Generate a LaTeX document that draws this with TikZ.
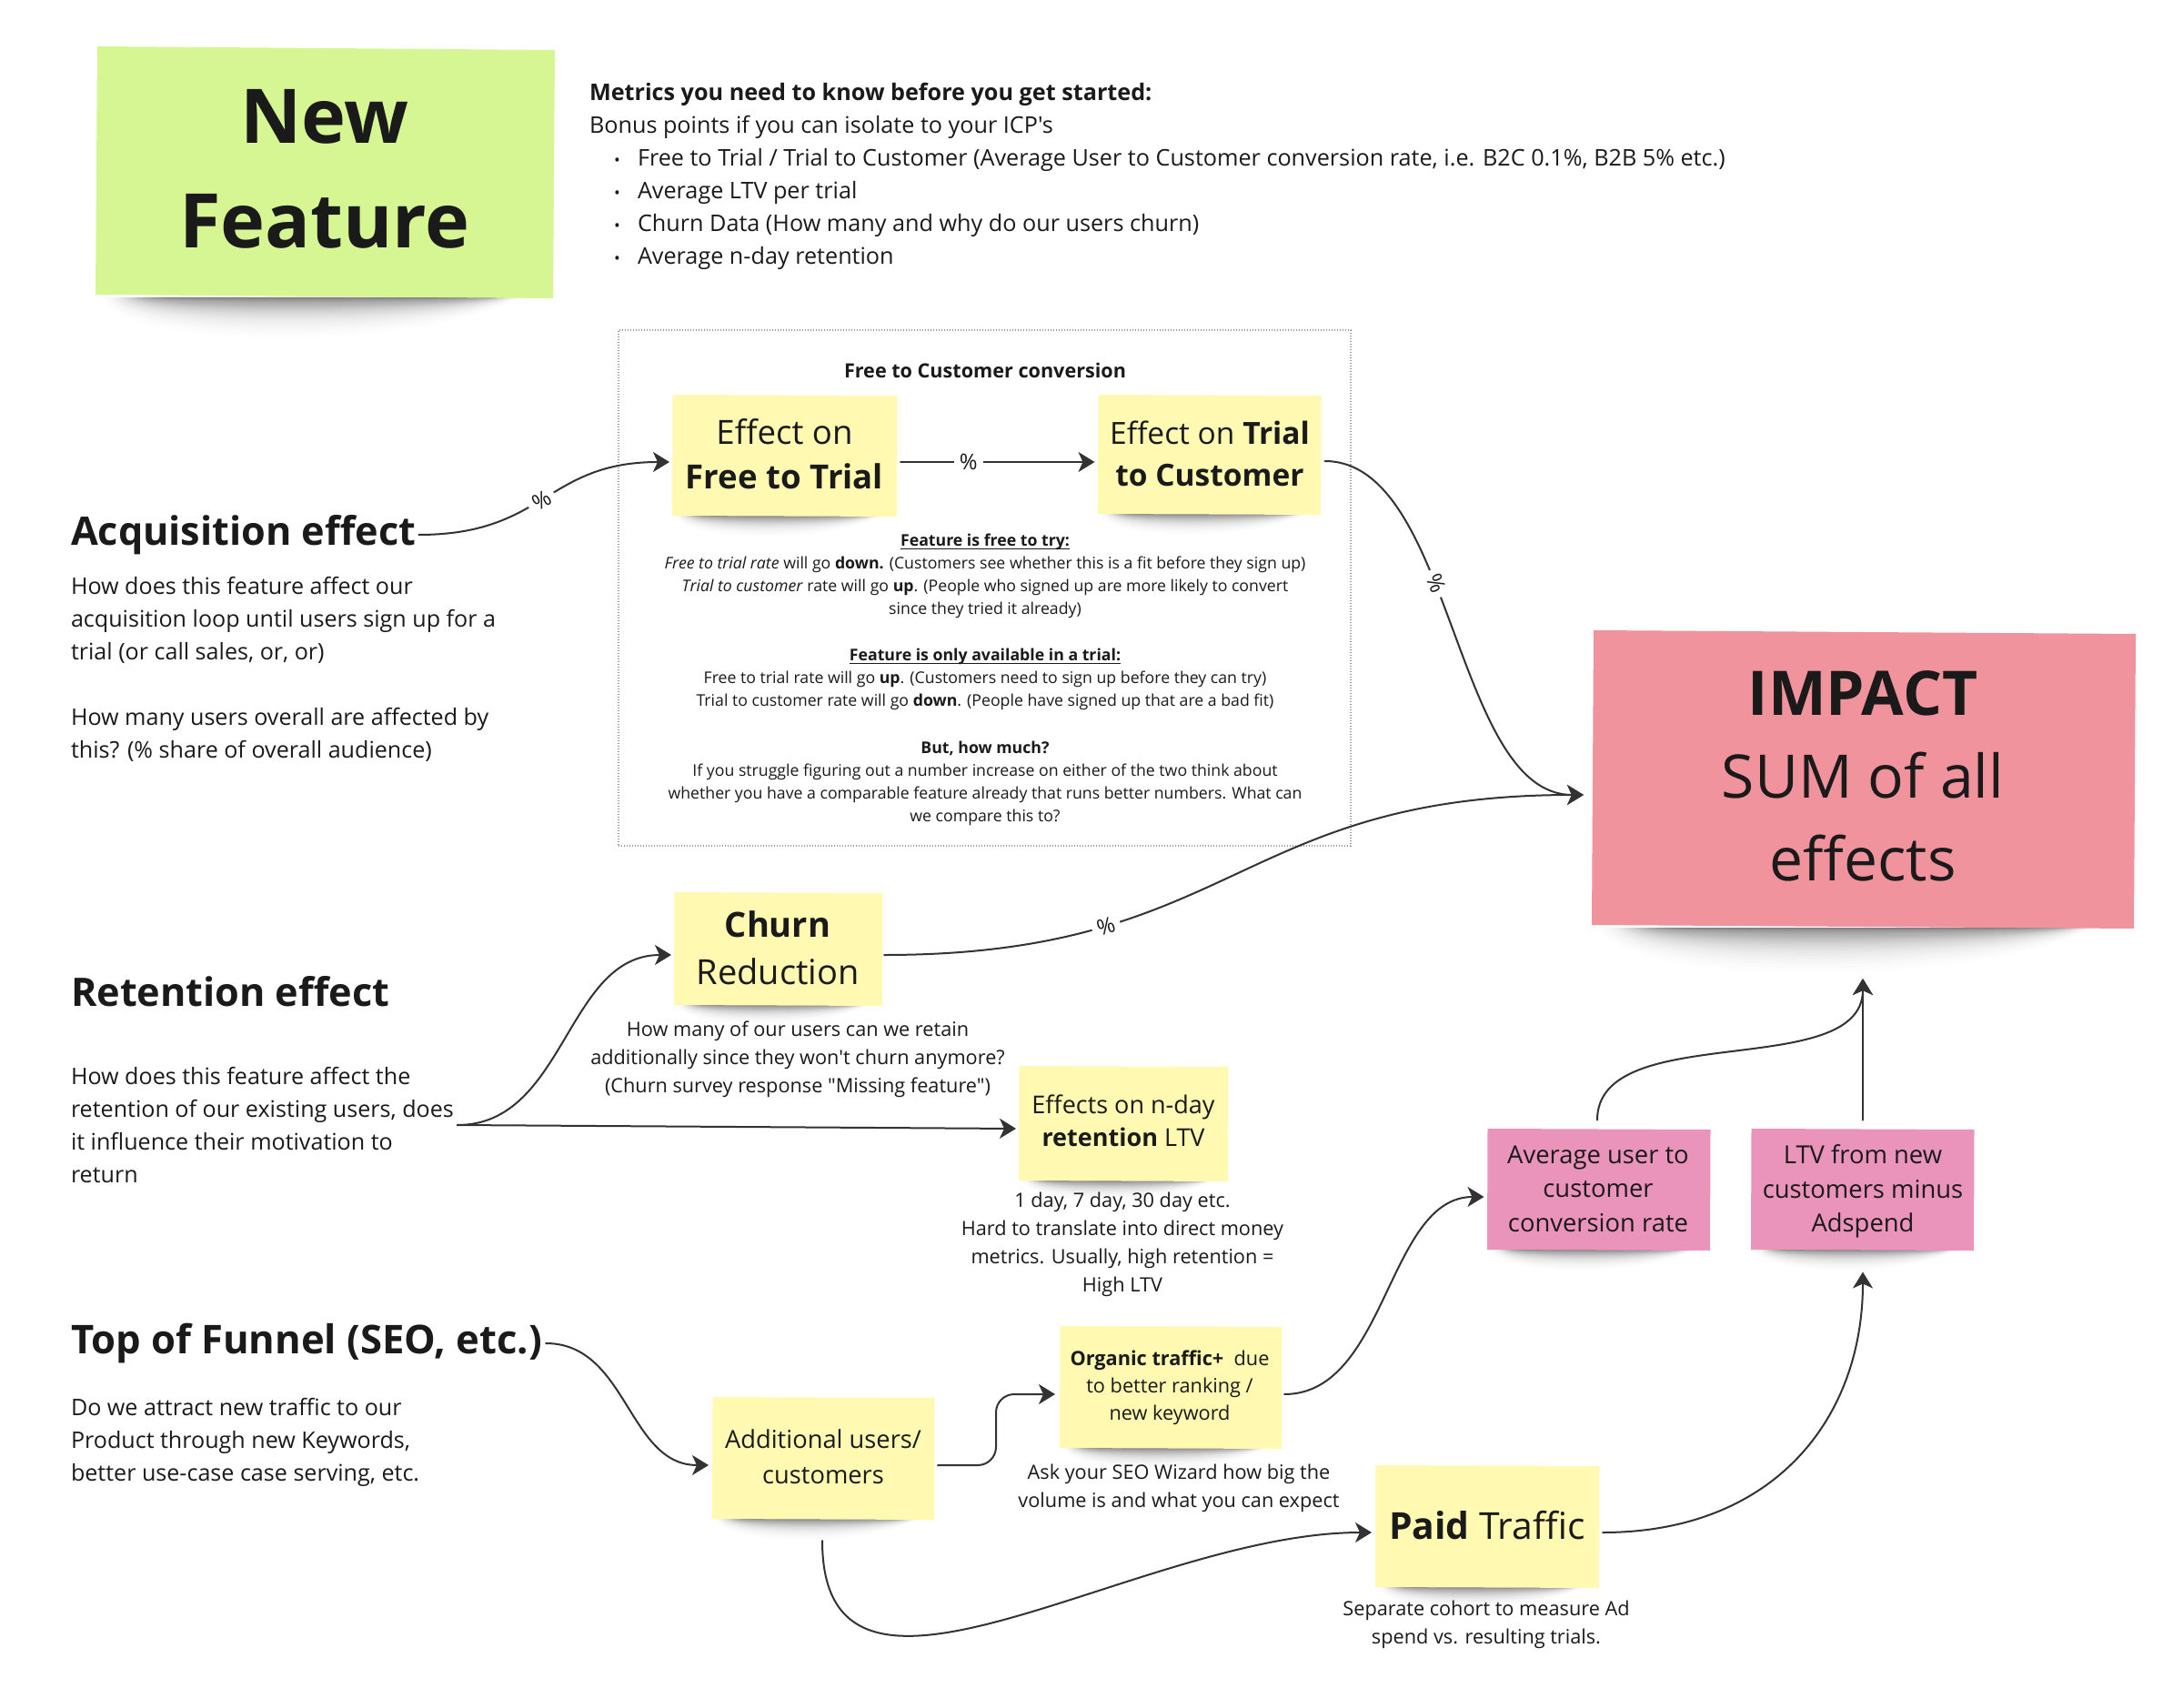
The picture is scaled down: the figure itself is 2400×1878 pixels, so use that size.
\documentclass[tikz,border=0pt]{standalone}
\usepackage{fontspec}
\setmainfont{Open Sans}[Ligatures=TeXOff]
\usetikzlibrary{arrows.meta}
\definecolor{ink}{HTML}{1A1A1A}
\definecolor{wire}{HTML}{333333}
\definecolor{sgreen}{HTML}{D5F692}
\definecolor{syellow}{HTML}{FFF9B1}
\definecolor{scoral}{HTML}{F0939D}
\definecolor{spink}{HTML}{EA94BB}
\newcommand{\fsz}[2]{\fontsize{#1}{#2}\selectfont}
\newlength{\ulen}
\newcommand{\ulx}[1]{\settowidth{\ulen}{#1}\rlap{\rule[-1.7pt]{\ulen}{.45pt}}#1}
% xl yt xr yb skewx skewy depth colour
\newcommand{\stickypaper}[8]{%
  \pgfmathsetmacro{\sW}{#3-#1}%
  \foreach \i in {1,...,24}{%
    \pgfmathsetmacro{\sF}{\i/24}%
    \pgfmathsetmacro{\sD}{#7*pow(\sF,1.8)*1.33}%
    \pgfmathsetmacro{\sA}{#1+\sW*(.15-.14*\sF)}%
    \pgfmathsetmacro{\sB}{#3-\sW*(.14-.07*\sF)}%
    \pgfmathsetmacro{\sCa}{\sA+\sW*.05}%
    \pgfmathsetmacro{\sCb}{\sB-\sW*.22}%
    \pgfmathsetmacro{\sY}{#4+#6-1}%
    \pgfmathsetmacro{\sO}{.05*(1-\sF)+.005}%
    \fill[black,opacity=\sO] (\sA,\sY) .. controls (\sCa,\sY+\sD) and (\sCb,\sY+\sD) .. (\sB,\sY) -- cycle;
  }%
  \fill[#8] (#1+#5,#2) -- (#3+#5,#2+#6) -- (#3,#4+#6) -- (#1,#4) -- cycle;
}
\tikzset{
  x=0.5pt,y=-0.5pt,
  every node/.style={text=ink,inner sep=0pt,outer sep=0pt},
  wireline/.style={draw=wire,line width=1pt,line cap=round,-{Stealth[length=9pt,width=11pt,inset=2.5pt]}},
  pct/.style={fill=white,font=\fsz{12}{14},inner xsep=3pt,inner ysep=1pt},
  side/.style={anchor=west,align=left,font=\fsz{12.55}{18}},
  heading/.style={anchor=west,font=\fsz{21.6}{26}\bfseries},
  caption/.style={align=center,font=\fsz{10.85}{15.5}},
  small/.style={align=center,font=\fsz{8.85}{12.5}},
}
\begin{document}
\begin{tikzpicture}
\useasboundingbox (0,0) rectangle (2400,1878);
\fill[white] (0,0) rectangle (2400,1878);

% --- paper
\stickypaper{105}{51}{608}{324}{2}{4}{46}{sgreen}
\stickypaper{1750}{693}{2346}{1017}{2}{4}{52}{scoral}
\stickypaper{739}{434}{986}{567}{.5}{1}{24}{syellow}
\stickypaper{1207}{434}{1452}{565}{.5}{1}{24}{syellow}
\stickypaper{741}{981}{970}{1105}{.5}{1}{22}{syellow}
\stickypaper{1120}{1172}{1350}{1298}{.5}{1}{22}{syellow}
\stickypaper{783}{1536}{1027}{1670}{.5}{1}{24}{syellow}
\stickypaper{1165}{1458}{1409}{1592}{.5}{1}{24}{syellow}
\stickypaper{1512}{1611}{1758}{1745}{.5}{1}{24}{syellow}
\stickypaper{1635}{1241}{1880}{1374}{.5}{1}{24}{spink}
\stickypaper{1925}{1241}{2170}{1374}{.5}{1}{24}{spink}

% --- box
\node[draw=gray!80,dash pattern=on .6pt off .9pt,line width=.6pt,minimum width=402.5pt,minimum height=283.5pt] (box) at (1082.5,646.5) {};

% --- stickies (text)
\node[align=center,font=\fsz{41.4}{57.5}] (feature) at (357,186) {\textbf{New}\\\textbf{Feature}};
\node[align=center,font=\fsz{33}{45.5}] (impact) at (2048,853) {{\fsz{33.8}{45.5}\textbf{IMPACT}}\\SUM of all\\effects};
\node[minimum width=123.5pt,minimum height=66.5pt,align=center,font=\fsz{18.3}{24.5}] (free) at (862.5,499) {Effect on\\\textbf{Free to Trial}};
\node[minimum width=122.5pt,minimum height=65.5pt,align=center,font=\fsz{16.75}{23}] (trial) at (1330,499) {Effect on \textbf{Trial}\\\textbf{to Customer}};
\node[minimum width=114pt,minimum height=62pt,align=center,font=\fsz{19}{26}] (churn) at (855,1042) {\textbf{Churn}\\Reduction};
\node[minimum width=115pt,minimum height=63pt,align=center,font=\fsz{13.5}{18}] (nday) at (1235,1232) {Effects on n-day\\\textbf{retention} LTV};
\node[minimum width=122pt,minimum height=67pt,align=center,font=\fsz{13.65}{19.5}] (users) at (905,1602) {Additional users/\\customers};
\node[minimum width=122pt,minimum height=67pt,align=center,font=\fsz{10.85}{15}] (organic) at (1286,1526) {\textbf{Organic traffic+} ~due\\to better ranking /\\new keyword};
\node[minimum width=123pt,minimum height=67pt,font=\fsz{20.4}{26}] (paid) at (1635,1677) {\textbf{Paid} Traffic};
\node[minimum width=122.5pt,minimum height=66.5pt,align=center,font=\fsz{13.7}{18.8}] (avg) at (1757,1307) {Average user to\\customer\\conversion rate};
\node[minimum width=122.5pt,minimum height=66.5pt,align=center,font=\fsz{13.7}{18.8}] (ltv) at (2048,1310) {LTV from new\\customers minus\\Adspend};

% --- top text
\node[anchor=north west,align=left,font=\fsz{12.6}{18}] (metrics) at (648,91) {\textbf{Metrics you need to know before you get started:}\\
Bonus points if you can isolate to your ICP's\\
\hspace*{13.5pt}\makebox[13pt][l]{\fsz{9}{18}•}Free to Trial / Trial to Customer (Average User to Customer conversion rate, i.e. B2C 0.1\%, B2B 5\% etc.)\\
\hspace*{13.5pt}\makebox[13pt][l]{\fsz{9}{18}•}Average LTV per trial\\
\hspace*{13.5pt}\makebox[13pt][l]{\fsz{9}{18}•}Churn Data (How many and why do our users churn)\\
\hspace*{13.5pt}\makebox[13pt][l]{\fsz{9}{18}•}Average n-day retention};

% --- centre box text
\node[font=\fsz{10.8}{12}\bfseries] (boxtitle) at (1083,407) {Free to Customer conversion};
\node[small] (freetext) at (1083,633) {\ulx{\textbf{Feature is free to try:}}\\
\textit{Free to trial rate} will go \textbf{down.} (Customers see whether this is a fit before they sign up)\\
\textit{Trial to customer} rate will go \textbf{up}. (People who signed up are more likely to convert\\
since they tried it already)};
\node[small] (onlytext) at (1083,747) {\ulx{\textbf{Feature is only available in a trial:}}\\
Free to trial rate will go \textbf{up}. (Customers need to sign up before they can try)\\
Trial to customer rate will go \textbf{down}. (People have signed up that are a bad fit)};
\node[small] (howtext) at (1083,861) {\textbf{But, how much?}\\
If you struggle figuring out a number increase on either of the two think about\\
whether you have a comparable feature already that runs better numbers. What can\\
we compare this to?};

% --- side text
\node[heading] (acq) at (78,588) {Acquisition effect};
\node[side] (acqtext) at (78,736) {How does this feature affect our\\acquisition loop until users sign up for a\\trial (or call sales, or, or)\\[18pt]How many users overall are affected by\\this? (\% share of overall audience)};
\node[heading] (ret) at (78,1090) {Retention effect};
\node[side] (rettext) at (78,1237) {How does this feature affect the\\retention of our existing users, does\\it influence their motivation to\\return};
\node[heading] (top) at (78,1477) {\fsz{21.8}{26}Top of Funnel (SEO, etc.)};
\node[side] (toptext) at (78,1586) {Do we attract new traffic to our\\Product through new Keywords,\\better use-case case serving, etc.};

% --- captions
\node[caption] (churncap) at (877,1165) {How many of our users can we retain\\additionally since they won't churn anymore?\\(Churn survey response "Missing feature")};
\node[caption] (ndaycap) at (1234,1368) {1 day, 7 day, 30 day etc.\\Hard to translate into direct money\\metrics. Usually, high retention =\\High LTV};
\node[caption] (organiccap) at (1296,1636) {Ask your SEO Wizard how big the\\volume is and what you can expect};
\node[caption] (paidcap) at (1634,1786) {Separate cohort to measure Ad\\spend vs. resulting trials.};

% --- connectors
\draw[wireline] ([shift={(3,0)}]acq.east) .. controls (600,588) and (600,508) .. ([shift={(-3,9)}]free.west) node[pct,sloped,pos=.48] {\%};
\draw[wireline] ([shift={(4,9)}]free.east) -- node[pct,pos=.35] {\%} ([shift={(-4,9)}]trial.west);
\draw[wireline] ([shift={(4,8)}]trial.east) .. controls (1598,507) and (1598,874) .. ([shift={(-9,21)}]impact.center -| 1750,853) node[pct,sloped,pos=.41] {\%};
\draw[wireline] ([shift={(3,8)}]churn.east) .. controls (1359,1050) and (1359,874) .. ([shift={(-9,21)}]impact.center -| 1750,853) node[pct,sloped,pos=.27] {\%};
\draw[wireline] ([shift={(4,0)}]rettext.east |- 504,1237) .. controls (622,1237) and (622,1050) .. ([shift={(-3,8)}]churn.west);
\draw[wireline] ([shift={(4,0)}]rettext.east |- 504,1237) -- ([shift={(-3,9)}]nday.west);
\draw[wireline] ([shift={(4,0)}]top.east) .. controls (690,1477) and (690,1611) .. ([shift={(-4,9)}]users.west);
\draw[wireline,rounded corners=10pt] ([shift={(4,9)}]users.east) -- (1095,1611) -- (1095,1533) -- ([shift={(-4,7)}]organic.west);
\draw[wireline] ([shift={(4,7)}]organic.east) .. controls (1525,1533) and (1525,1316) .. ([shift={(-3,9)}]avg.west);
\draw[wireline] ([shift={(-1,25)}]users.south) .. controls (904,1935) and (1250,1685) .. ([shift={(-4,8)}]paid.west);
\draw[wireline] ([shift={(4,8)}]paid.east) .. controls (1950,1685) and (2048,1560) .. ([shift={(0,22)}]ltv.south);
\draw[wireline] ([shift={(-1,-9)}]avg.north) .. controls (1756,1120) and (2048,1190) .. (impact.center |- 2048,1076);
\draw[wireline] ([shift={(0,-12)}]ltv.north) -- (impact.center |- 2048,1076);
\end{tikzpicture}
\end{document}
